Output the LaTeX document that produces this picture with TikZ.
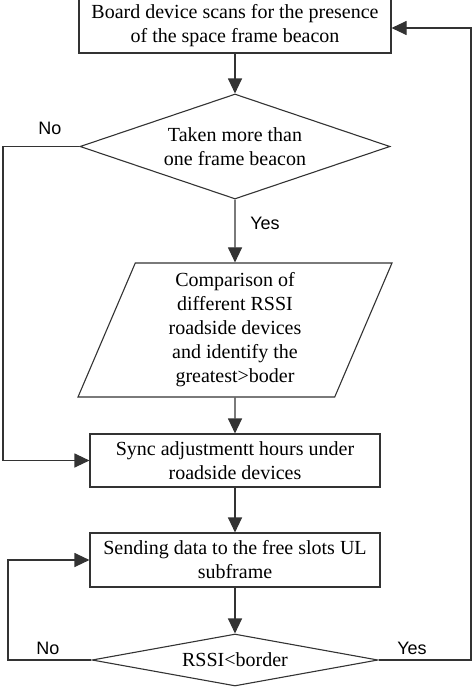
\documentclass[tikz,border=0pt]{standalone}
\usepackage{fontspec}
\setmainfont{Liberation Serif}
\newfontfamily\labelfont{Liberation Sans}
\usetikzlibrary{shapes.geometric,arrows.meta}
\tikzset{
  linecol/.style={draw=black!80, line width=1.1pt},
  procbox/.style={linecol, rectangle, inner sep=0pt, align=center,
     font=\fontsize{20}{24}\selectfont},
  decbox/.style={linecol, diamond, inner sep=0pt, align=center,
     font=\fontsize{20}{24}\selectfont},
  iobox/.style={linecol, trapezium, trapezium stretches body=true, trapezium stretches=true,
     trapezium left angle=63.4, trapezium right angle=116.6, inner sep=0pt, align=center,
     font=\fontsize{20}{24}\selectfont},
  flow/.style={linecol, -{Triangle[width=14pt,length=15pt]}},
  lbl/.style={font=\labelfont\fontsize{18}{20}\selectfont, inner sep=0pt}
}
\begin{document}
\begin{tikzpicture}[x=1pt,y=-1pt]
\useasboundingbox (0,0) rectangle (474,688);
\node[procbox, minimum width=312pt, minimum height=54pt] (scan) at (235,26)
  {Board device scans for the presence\\of the space frame beacon};
\node[decbox, aspect=2.95, minimum width=310pt, minimum height=105pt] (d1) at (235,146.5)
  {Taken more than\\one frame beacon};
\node[iobox, minimum width=314pt, minimum height=134pt] (cmp) at (235,330)
  {Comparison of\\different RSSI\\roadside devices\\and identify the\\greatest>boder};
\node[procbox, minimum width=290pt, minimum height=53pt] (sync) at (235,460.5)
  {Sync adjustmentt hours under\\roadside devices};
\node[procbox, minimum width=290pt, minimum height=54pt] (send) at (235,560)
  {Sending data to the free slots UL\\subframe};
\node[decbox, aspect=5.5, minimum width=286pt, minimum height=52pt] (d2) at (235,660)
  {RSSI<border};

\coordinate (L1) at (3,146.5);
\coordinate (L2) at (8,660);
\coordinate (R1) at (471,660);

\draw[flow] (scan.south) -- (d1.north);
\draw[flow] (d1.south) -- (cmp.north);
\draw[flow] (cmp.south) -- (sync.north);
\draw[flow] (sync.south) -- (send.north);
\draw[flow] (send.south) -- (d2.north);
\draw[flow] (d1.west) -- (L1) |- (sync.west);
\draw[flow] (d2.west) -- (L2) |- (send.west);
\draw[flow] (d2.east) -- (R1) |- ([yshift=-2pt]scan.east);

\node[lbl] (no1) at (50,128) {No};
\node[lbl] (yes1) at (265,223) {Yes};
\node[lbl] (no2) at (48,648) {No};
\node[lbl] (yes2) at (412,648) {Yes};
\end{tikzpicture}
\end{document}
